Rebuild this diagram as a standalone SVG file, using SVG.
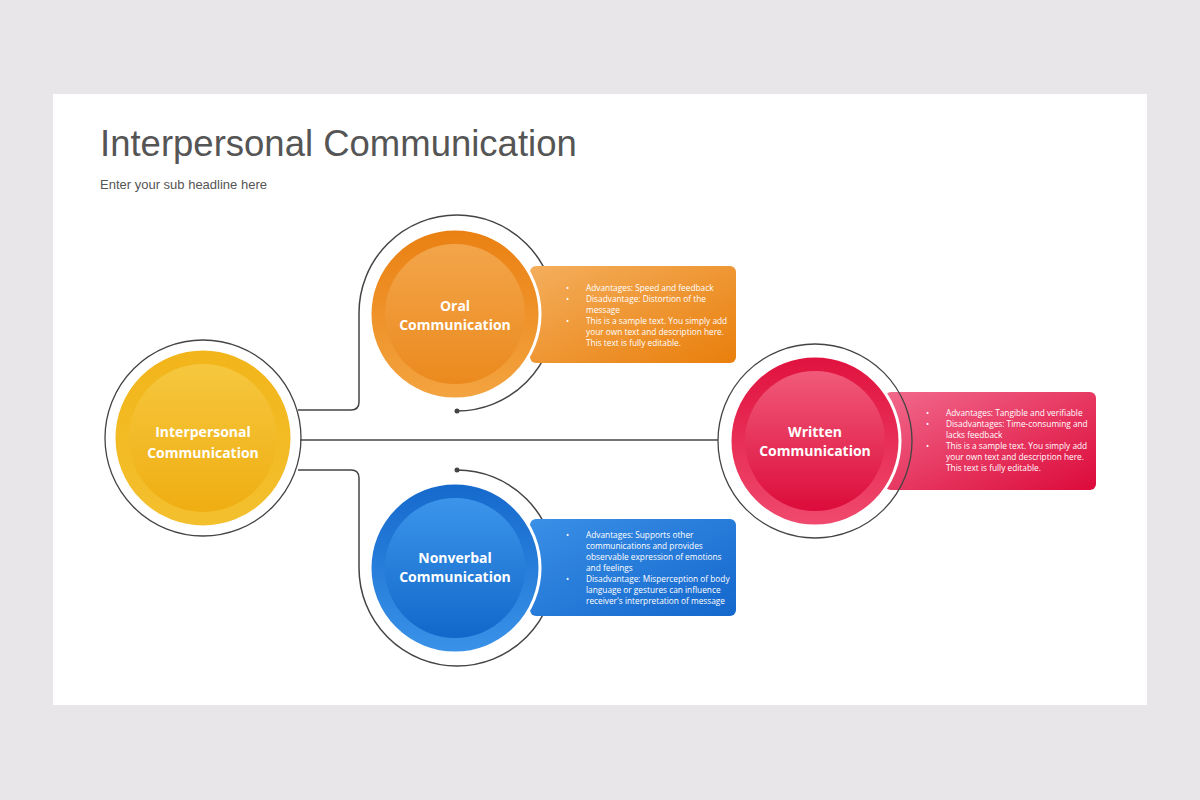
<svg xmlns="http://www.w3.org/2000/svg" width="1200" height="800" viewBox="0 0 1200 800">
<defs>
<linearGradient id="gy" x1="0" y1="0" x2="0" y2="1"><stop offset="0" stop-color="#f2b51a"/><stop offset="1" stop-color="#f3c02e"/></linearGradient>
<linearGradient id="gyi" x1="0" y1="0" x2="0" y2="1"><stop offset="0" stop-color="#f6c73e"/><stop offset="1" stop-color="#efae12"/></linearGradient>
<linearGradient id="go" x1="0" y1="0" x2="0" y2="1"><stop offset="0" stop-color="#ea8012"/><stop offset="1" stop-color="#f3a440"/></linearGradient>
<linearGradient id="goi" x1="0" y1="0" x2="0" y2="1"><stop offset="0" stop-color="#f3a54a"/><stop offset="1" stop-color="#eb8a1e"/></linearGradient>
<linearGradient id="gr" x1="0" y1="0" x2="0" y2="1"><stop offset="0" stop-color="#e0123e"/><stop offset="1" stop-color="#f04a6e"/></linearGradient>
<linearGradient id="gri" x1="0" y1="0" x2="0" y2="1"><stop offset="0" stop-color="#f15a7a"/><stop offset="1" stop-color="#dc0c3a"/></linearGradient>
<linearGradient id="gb" x1="0" y1="0" x2="0" y2="1"><stop offset="0" stop-color="#1569cc"/><stop offset="1" stop-color="#3a92e8"/></linearGradient>
<linearGradient id="gbi" x1="0" y1="0" x2="0" y2="1"><stop offset="0" stop-color="#3c95ea"/><stop offset="1" stop-color="#1268ca"/></linearGradient>
<linearGradient id="ro" x1="0" y1="0" x2="1" y2="1"><stop offset="0" stop-color="#f4ae5c"/><stop offset="1" stop-color="#e97f0c"/></linearGradient>
<linearGradient id="rr" x1="0" y1="0" x2="1" y2="1"><stop offset="0" stop-color="#f2698c"/><stop offset="1" stop-color="#dc0a3a"/></linearGradient>
<linearGradient id="rb" x1="0" y1="0" x2="1" y2="1"><stop offset="0" stop-color="#3a8fe6"/><stop offset="1" stop-color="#1467cc"/></linearGradient>
</defs>
<style>
.ring{fill:none;stroke:#444;stroke-width:1.3}
.ln{fill:none;stroke:#444;stroke-width:1.5}
.lbl{font-family:"Open Sans","Liberation Sans",sans-serif;font-weight:bold;font-size:14px;fill:#fff;text-anchor:middle}
.bt{font-family:"Open Sans","Liberation Sans",sans-serif;font-size:8.3px;fill:#fff}
.wr{stroke:#fff;stroke-width:3}
</style>
<rect width="1200" height="800" fill="#e8e6e8"/>
<rect x="53" y="94" width="1094" height="611" fill="#fff"/>
<text x="100" y="156" font-family="'Liberation Sans',Arial,sans-serif" font-size="36.5" fill="#555">Interpersonal Communication</text>
<text x="100" y="189" font-family="'Liberation Sans',Arial,sans-serif" font-size="13" fill="#555">Enter your sub headline here</text>
<g id="connectors">
<path class="ln" d="M298 410 H351 Q359 410 359 402 V313 A98 98 0 1 1 457 411"/>
<circle cx="457" cy="411" r="2.5" fill="#444"/>
<path class="ln" d="M298 470 H351 Q359 470 359 478 V568 A98 98 0 1 0 457 470"/>
<circle cx="457" cy="470" r="2.5" fill="#444"/>
<line class="ln" x1="300" y1="440" x2="718" y2="440"/>
</g>
<g id="interpersonal">
<circle class="ring" cx="203" cy="438" r="98"/>
<circle cx="203" cy="438" r="89" fill="url(#gy)" class="wr"/>
<circle cx="203" cy="438" r="74" fill="url(#gyi)"/>
<text class="lbl" x="203" y="437">Interpersonal</text>
<text class="lbl" x="203" y="458">Communication</text>
</g>
<g id="oral">
<rect x="530" y="266" width="206" height="97" rx="6" fill="url(#ro)"/>
<circle cx="455" cy="314" r="85" fill="url(#go)" class="wr"/>
<circle cx="455" cy="314" r="70" fill="url(#goi)"/>
<text class="lbl" x="455" y="311">Oral</text>
<text class="lbl" x="455" y="330">Communication</text>
<g class="bt">
<text x="566" y="291">•</text><text x="586" y="291">Advantages: Speed and feedback</text>
<text x="566" y="302">•</text><text x="586" y="302">Disadvantage: Distortion of the</text>
<text x="586" y="313">message</text>
<text x="566" y="324">•</text><text x="586" y="324">This is a sample text. You simply add</text>
<text x="586" y="335">your own text and description here.</text>
<text x="586" y="346">This text is fully editable.</text>
</g>
</g>
<g id="written">
<rect x="885" y="392" width="211" height="98" rx="6" fill="url(#rr)"/>
<circle cx="815" cy="441" r="85" fill="url(#gr)" class="wr"/>
<circle cx="815" cy="441" r="70" fill="url(#gri)"/>
<circle class="ring" cx="815" cy="441" r="97"/>
<text class="lbl" x="815" y="437">Written</text>
<text class="lbl" x="815" y="456">Communication</text>
<g class="bt">
<text x="926" y="416">•</text><text x="946" y="416">Advantages: Tangible and verifiable</text>
<text x="926" y="427">•</text><text x="946" y="427">Disadvantages: Time-consuming and</text>
<text x="946" y="438">lacks feedback</text>
<text x="926" y="449">•</text><text x="946" y="449">This is a sample text. You simply add</text>
<text x="946" y="460">your own text and description here.</text>
<text x="946" y="471">This text is fully editable.</text>
</g>
</g>
<g id="nonverbal">
<rect x="530" y="519" width="206" height="97" rx="6" fill="url(#rb)"/>
<circle cx="455" cy="568" r="85" fill="url(#gb)" class="wr"/>
<circle cx="455" cy="568" r="70" fill="url(#gbi)"/>
<text class="lbl" x="455" y="563">Nonverbal</text>
<text class="lbl" x="455" y="582">Communication</text>
<g class="bt">
<text x="566" y="538">•</text><text x="586" y="538">Advantages: Supports other</text>
<text x="586" y="549">communications and provides</text>
<text x="586" y="560">observable expression of emotions</text>
<text x="586" y="571">and feelings</text>
<text x="566" y="582">•</text><text x="586" y="582">Disadvantage: Misperception of body</text>
<text x="586" y="593">language or gestures can influence</text>
<text x="586" y="604">receiver's interpretation of message</text>
</g>
</g>
</svg>
